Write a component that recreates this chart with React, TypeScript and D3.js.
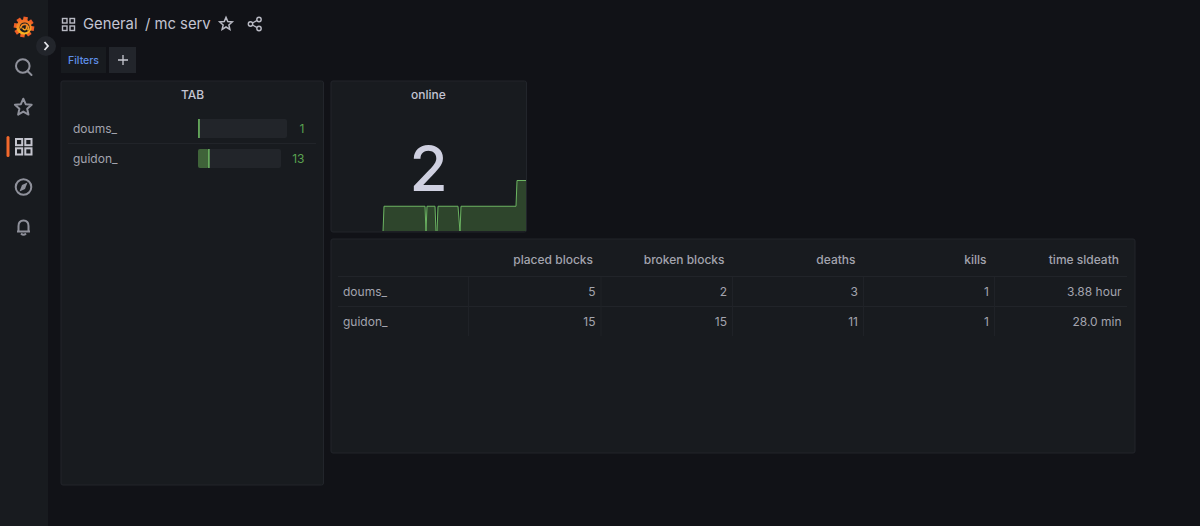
import * as d3 from "d3";

const WIDTH = 1200;
const HEIGHT = 526;

const players = ["doums_", "guidon_"];
const tabValues = [1, 13];

const onlineTimes = [0, 52, 53, 94, 95, 96, 104, 105, 106, 107, 127, 129, 130, 185, 186, 195];
const onlineValues = [0, 0, 1, 1, 0, 1, 1, 0, 0, 1, 1, 0, 1, 1, 2, 2];
const onlineCurrent = "2";

const tableColumns = ["placed blocks", "broken blocks", "deaths", "kills", "time sldeath"];
const placedBlocks = ["5", "15"];
const brokenBlocks = ["2", "15"];
const deaths = ["3", "11"];
const kills = ["1", "1"];
const timeSinceDeath = ["3.88 hour", "28.0 min"];

const FONT = "Inter, 'Noto Sans', sans-serif";
const TEXT = "#c3c4d2";
const MUTED = "#a3a4ae";
const PANEL = "#181b1f";
const BORDER = "#22252b";
const GREEN = "#6cb562";
const GREEN_TEXT = "#5aa250";

const starPath = (outer: number, inner: number) =>
  d3
    .lineRadial<number>()
    .angle((_, i) => (i * Math.PI) / 5)
    .radius((d) => d)
    .curve(d3.curveLinearClosed)([outer, inner, outer, inner, outer, inner, outer, inner, outer, inner]) ?? "";

const Panel = ({ x, y, w, h }: { x: number; y: number; w: number; h: number }) => (
  <rect x={x + 0.5} y={y + 0.5} width={w} height={h} rx={2} fill={PANEL} stroke={BORDER} />
);

const Sidebar = () => {
  const stroke = "#8f919b";
  return (
    <g>
      <rect x={0} y={0} width={48} height={HEIGHT} fill={PANEL} />
      <defs>
        <linearGradient id="logo" gradientUnits="userSpaceOnUse" x1="0" y1="11" x2="0" y2="-11">
          <stop offset="0" stopColor="#fbd01f" />
          <stop offset="1" stopColor="#ee5527" />
        </linearGradient>
      </defs>
      <g transform="translate(24,27)">
        {d3.range(8).map((i) => (
          <rect key={i} x={-2.2} y={-10.2} width={4.4} height={4.5} fill="url(#logo)" transform={`rotate(${i * 45 + 10})`} />
        ))}
        <circle r={7.6} fill="url(#logo)" />
        <circle cx={0.6} cy={0.4} r={5} fill={PANEL} />
        <path d="M-3.2 1.5 A3.8 3.8 0 1 1 3.6 3.4" fill="none" stroke="url(#logo)" strokeWidth={1.7} />
        <path d="M-1.2 0.8 A1.9 1.9 0 1 0 2 -0.6" fill="none" stroke="url(#logo)" strokeWidth={1.5} />
      </g>
      <g fill="none" stroke={stroke} strokeWidth={2}>
        {/* search */}
        <circle cx={22.8} cy={66} r={6.8} />
        <path d="M28 71.5 L31.5 75" strokeLinecap="round" />
        {/* star */}
        <path d={starPath(8.8, 4.1)} transform="translate(23.3,107.5)" strokeLinejoin="round" />
        {/* dashboards */}
        <g stroke="#c4c5ce">
          <rect x={16} y={139} width={6.2} height={6.2} />
          <rect x={25.3} y={139} width={6.2} height={6.2} />
          <rect x={16} y={148.3} width={6.2} height={6.2} />
          <rect x={25.3} y={148.3} width={6.2} height={6.2} />
        </g>
        {/* compass */}
        <circle cx={23.5} cy={187} r={7.8} />
        {/* bell */}
        <path d="M18.5 231 L18.5 226 Q18.5 220.5 23.5 220.5 Q28.5 220.5 28.5 226 L28.5 231 M17 231.5 L30 231.5" strokeLinejoin="round" />
        <path d="M21 233.5 Q23.5 236 26 233.5" />
      </g>
      <path d="M27.5 182.5 L25 189 L19.5 191.5 L22 185 Z" fill={stroke} />
      <rect x={6.5} y={136} width={3} height={21} rx={1.5} fill="#f2692c" />
      <circle cx={46} cy={46} r={10} fill="#22252b" />
      <path d="M44.5 42 L48 46 L44.5 50" fill="none" stroke="#e4e5ea" strokeWidth={1.8} />
    </g>
  );
};

const TopBar = () => {
  const stroke = "#b9bac4";
  return (
    <g>
      <g fill="none" stroke={stroke} strokeWidth={1.4}>
        <rect x={62.5} y={18.5} width={4.5} height={4.5} />
        <rect x={70} y={18.5} width={4.5} height={4.5} />
        <rect x={62.5} y={26} width={4.5} height={4.5} />
        <rect x={70} y={26} width={4.5} height={4.5} />
        <path d={starPath(6.6, 3)} transform="translate(226,24)" strokeWidth={1.5} />
        <circle cx={259} cy={19.5} r={2.2} />
        <circle cx={250.5} cy={24} r={2.2} />
        <circle cx={259} cy={28.5} r={2.2} />
        <path d="M252.5 23 L257 20.5 M252.5 25 L257 27.5" />
      </g>
      <text x={83} y={28.5} fontSize={14.8} fill={TEXT}>General</text>
      <text x={145} y={28.5} fontSize={14.8} fill={TEXT}>/ mc serv</text>

      <rect x={61} y={47} width={45} height={26} fill={PANEL} />
      <text x={83.5} y={64} fontSize={10.5} fontWeight={500} textAnchor="middle" fill="#5f8fe8">Filters</text>
      <rect x={109} y={47} width={27} height={26} fill="#22252b" />
      <path d="M118 60 H128 M123 55 V65" stroke="#c8c9d2" strokeWidth={1.3} />
    </g>
  );
};

const TabPanel = () => {
  const x = d3.scaleLinear().domain([0, 100]).range([0, 1]);
  const rows = [
    { y: 119, end: 287 },
    { y: 149, end: 281 },
  ];
  return (
    <g>
      <Panel x={60.5} y={80.5} w={262.5} h={404} />
      <text x={192.5} y={98.5} fontSize={12} fontWeight={500} textAnchor="middle" fill={TEXT}>TAB</text>
      <path d="M68 143.5 H316" stroke="#212429" />
      {players.map((name, i) => {
        const row = rows[i];
        const trackW = row.end - 198;
        const w = Math.max(x(tabValues[i]) * trackW, 0);
        return (
          <g key={name}>
            <text x={73} y={row.y + 14} fontSize={12} fill={MUTED}>{name}</text>
            <rect x={198} y={row.y} width={trackW} height={19} rx={2} fill="#22252a" />
            <rect x={198} y={row.y} width={w} height={19} rx={2} fill="#3f6339" />
            <rect x={198 + w - 0.7} y={row.y} width={1.6} height={19} fill={GREEN} />
            <text x={304.5} y={row.y + 14} fontSize={12} textAnchor="end" fill={GREEN_TEXT}>{tabValues[i]}</text>
          </g>
        );
      })}
    </g>
  );
};

const OnlinePanel = () => {
  const x = d3.scaleLinear().domain([0, 195]).range([331, 526]);
  const y = d3.scaleLinear().domain([0, 2]).range([232, 180.5]);
  const pairs = onlineTimes.map((t, i) => [t, onlineValues[i]] as [number, number]);
  const area = d3.area<[number, number]>().x((d) => x(d[0])).y0(y(0)).y1((d) => y(d[1]));
  const line = d3.line<[number, number]>().x((d) => x(d[0])).y((d) => y(d[1]));
  return (
    <g>
      <Panel x={330.5} y={80.5} w={195.5} h={151} />
      <text x={428.5} y={98.5} fontSize={12} fontWeight={500} textAnchor="middle" fill={TEXT}>online</text>
      <clipPath id="spark">
        <rect x={331} y={100} width={195} height={131} />
      </clipPath>
      <g clipPath="url(#spark)">
        <path d={area(pairs) ?? ""} fill="#2e452c" />
        <path d={line(pairs) ?? ""} fill="none" stroke={GREEN} strokeWidth={1} />
      </g>
      <text x={428.5} y={190.5} fontSize={62} fontWeight={500} textAnchor="middle" fill="#cfd0e0">{onlineCurrent}</text>
    </g>
  );
};

const TablePanel = () => {
  const columns = [placedBlocks, brokenBlocks, deaths, kills, timeSinceDeath];
  const edges = [468.5, 601, 732.5, 863.5, 994.5, 1127];
  const rowY = d3.scaleBand<number>().domain([0, 1]).range([276, 336]);
  return (
    <g>
      <Panel x={330.5} y={238.5} w={804} h={214} />
      {tableColumns.map((c, i) => (
        <text key={c} x={edges[i + 1] - 8} y={264} fontSize={12} fontWeight={500} textAnchor="end" fill={MUTED}>{c}</text>
      ))}
      <path d="M338 276.5 H1127 M338 306.5 H1127" stroke="#212429" />
      {edges.slice(0, 5).map((e) => (
        <path key={e} d={`M${e} 277 V336`} stroke="#1f2227" />
      ))}
      {players.map((name, r) => {
        const cy = (rowY(r) ?? 0) + rowY.bandwidth() / 2 + 4.5;
        return (
          <g key={name}>
            <text x={343} y={cy} fontSize={12} fill={MUTED}>{name}</text>
            {columns.map((col, c) => (
              <text key={c} x={edges[c + 1] - 5.5} y={cy} fontSize={12} textAnchor="end" fill={MUTED}>{col[r]}</text>
            ))}
          </g>
        );
      })}
    </g>
  );
};

export default function App() {
  return (
    <svg
      width={WIDTH}
      height={HEIGHT}
      viewBox={`0 0 ${WIDTH} ${HEIGHT}`}
      style={{ position: "absolute", left: 0, top: 0, display: "block", fontFamily: FONT }}
    >
      <rect width={WIDTH} height={HEIGHT} fill="#111217" />
      <Sidebar />
      <TopBar />
      <TabPanel />
      <OnlinePanel />
      <TablePanel />
    </svg>
  );
}
